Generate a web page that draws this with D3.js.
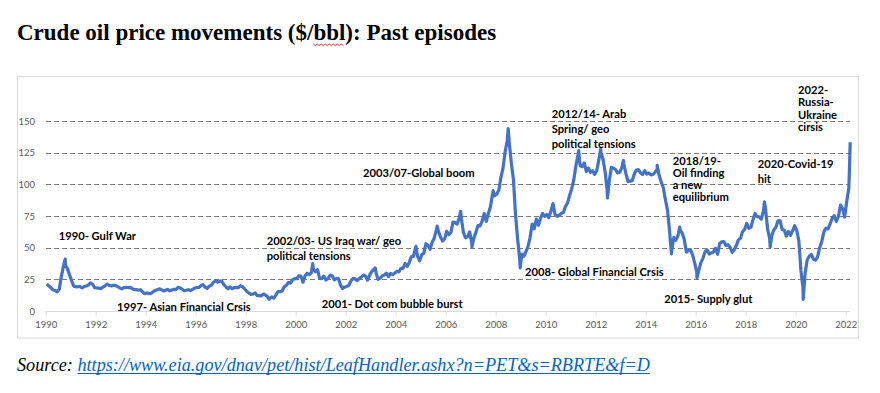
<!DOCTYPE html>
<html>
<head>
<meta charset="utf-8">
<script src="https://cdn.jsdelivr.net/npm/d3@7"></script>
<style>
	body{margin:0;background:#fff;}
</style>
</head>
<body>
<div id="container"></div>
<script>
// Brent monthly averages ($/bbl), Jan..Dec per year, one array per decade
const brent1990s=[
	21.25,19.81,18.39,16.61,16.35,15.10,17.17,27.17,35.25,36.02,33.07,28.27,
	23.57,19.54,19.08,19.18,19.19,18.17,19.40,19.77,20.50,22.21,21.11,18.41,
	18.16,18.05,17.63,18.92,19.89,21.16,20.20,19.73,20.22,20.26,19.25,18.31,
	17.41,18.44,18.70,18.53,18.61,17.76,16.78,16.95,16.37,16.84,15.12,13.64,
	14.30,13.79,13.71,15.16,16.24,16.76,17.48,16.82,15.88,16.24,17.06,15.94,
	16.55,17.08,16.83,18.58,18.25,17.18,15.95,16.37,16.83,16.08,17.08,18.10,
	18.57,18.54,19.92,20.83,18.71,17.92,19.60,20.25,22.61,24.00,22.79,23.54,
	23.54,20.85,19.13,17.56,19.02,17.58,18.46,18.60,18.46,19.87,19.18,17.40,
	15.50,14.20,13.17,13.40,14.36,12.10,12.10,11.90,13.41,12.65,11.11,9.82,
	11.09,10.26,12.51,15.29,15.23,15.87,19.08,20.24,22.54,21.94,24.59,25.60
];
const brent2000s=[
	25.51,27.78,27.49,22.76,27.74,29.80,28.68,30.20,33.14,30.96,32.55,25.66,
	25.62,27.50,24.50,25.66,28.31,27.85,24.61,25.68,25.62,20.54,18.80,18.71,
	19.42,20.28,23.70,25.73,25.35,24.08,25.74,26.65,28.40,27.54,24.34,28.33,
	31.18,32.77,30.61,25.00,25.86,27.65,28.35,29.89,27.11,29.61,28.75,29.81,
	31.28,30.86,33.63,33.59,37.57,35.18,38.22,42.74,43.20,49.78,43.11,39.60,
	44.51,45.48,53.10,51.88,48.65,54.35,57.52,63.98,62.91,58.54,55.24,56.86,
	62.99,60.21,62.06,70.26,69.78,68.56,73.67,73.23,61.96,57.81,58.76,62.47,
	53.68,57.56,62.05,67.49,67.21,71.05,76.93,70.76,77.17,82.34,92.41,90.93,
	92.18,95.39,105.45,112.58,125.40,133.88,133.37,116.67,104.11,76.61,57.31,41.12,
	44.86,43.24,46.84,50.85,57.94,68.59,64.91,72.50,67.69,73.19,77.04,74.67
];
const brent2010s=[
	76.17,73.75,78.83,84.82,75.95,74.76,75.58,77.04,77.84,82.67,85.28,91.45,
	96.52,103.72,114.64,123.26,114.99,113.83,116.97,110.22,112.83,109.55,110.77,107.87,
	110.69,119.33,125.45,119.75,110.34,95.16,102.62,113.36,112.86,111.71,109.06,109.49,
	112.96,116.05,108.47,102.25,102.56,102.92,107.93,111.28,111.60,109.08,107.79,110.76,
	108.12,108.90,107.48,107.76,109.54,111.80,106.77,101.61,97.09,87.43,79.44,62.34,
	47.76,58.10,55.89,59.52,64.08,61.48,56.56,46.52,47.62,48.43,44.27,38.01,
	30.70,32.18,38.21,41.58,46.74,48.25,44.95,45.84,46.57,49.52,44.73,53.31,
	54.58,54.87,51.59,52.31,50.33,46.37,48.48,51.70,56.15,57.51,62.71,64.37,
	69.08,65.32,66.02,72.11,76.98,74.41,74.25,72.53,78.89,81.03,64.75,57.36,
	59.41,63.96,66.14,71.23,71.32,64.22,63.92,59.04,62.83,59.71,63.21,67.31
];
const brent2020s=[
	63.65,55.66,32.01,18.38,29.38,40.27,43.24,44.74,40.91,40.19,42.69,49.99,
	54.77,62.28,65.41,64.81,68.53,73.16,75.17,70.75,74.49,83.54,81.05,74.17,
	86.51,97.13
];
// daily highs/lows that stand out in the daily series (decimal year, $/bbl)
const spikeYears=[1990.78,1998.94,2000.68,2001.87,2003.18,2004.81,2005.66,2006.60,2007.05,2007.90,
	2008.50,2008.98,2011.32,2012.20,2012.47,2013.11,2014.46,2015.03,2015.36,2016.05,
	2018.75,2018.98,2020.30,2022.15,2022.18];
const spikeValues=[41.0,9.1,37.4,17.7,34.0,51.0,67.0,78.7,50.5,95.0,
	143.9,34.0,126.6,128.1,89.2,118.9,115.0,45.1,66.3,26.0,
	86.1,50.5,9.1,112.0,133.2];

const yTicks=[0,25,50,75,100,125,150];
const xTicks=[1990,1992,1994,1996,1998,2000,2002,2004,2006,2008,2010,2012,2014,2016,2018,2020,2022];

const episodes=[
	{lines:["1990- Gulf War"], year:1990.52, value:56.0, lh:15},
	{lines:["1997- Asian Financial Crsis"], year:1992.85, value:0.2, lh:15},
	{lines:["2002/03- US Iraq war/ geo","political tensions"], year:1998.84, value:52.3, lh:15.3},
	{lines:["2001- Dot com bubble burst"], year:2001.04, value:2.4, lh:15},
	{lines:["2003/07-Global boom"], year:2002.69, value:106.0, lh:15},
	{lines:["2008- Global Financial Crsis"], year:2009.17, value:27.9, lh:15},
	{lines:["2012/14- Arab","Spring/ geo","political tensions"], year:2010.24, value:152.4, lh:15},
	{lines:["2018/19-","Oil finding","a new","equilibrium"], year:2015.08, value:115.3, lh:12},
	{lines:["2020-Covid-19","hit"], year:2018.48, value:113.1, lh:15},
	{lines:["2015- Supply glut"], year:2014.74, value:6.3, lh:15},
	{lines:["2022-","Russia-","Ukraine","cirsis"], year:2020.09, value:171.3, lh:12.3}
];

const titleText="Crude oil price movements ($/bbl): Past episodes";
const sourceLabel="Source: ";
const sourceUrl="https://www.eia.gov/dnav/pet/hist/LeafHandler.ashx?n=PET&s=RBRTE&f=D";

// build the series
const series=[];
[brent1990s,brent2000s,brent2010s,brent2020s].forEach((arr,k) => {
	arr.forEach((v,i) => series.push({t:1990+k*10+(i+0.5)/12, v:v}));
});
spikeYears.forEach((t,i) => series.push({t:t, v:spikeValues[i]}));
series.sort((a,b) => a.t-b.t);

const w=880, h=393;
const svg=d3.select("#container").append("svg").attr("width", w).attr("height", h)
	.style("font-family","Lato, 'Open Sans', sans-serif");
svg.append("rect").attr("width", w).attr("height", h).attr("fill", "#fff");

// title
const title=svg.append("text")
	.attr("x", 17).attr("y", 40)
	.attr("font-family", "'Liberation Serif', 'Times New Roman', serif")
	.attr("font-weight", "bold").attr("font-size", 23)
	.attr("fill", "#000")
	.text(titleText);
// spell-check squiggle under "bbl"
const bi=titleText.indexOf("bbl");
const bx=17+title.node().getSubStringLength(0, bi);
const bw=title.node().getSubStringLength(bi, 3);
const sq=d3.range(0, Math.floor(bw/2)+1).map(k => [bx+k*2, 44+(k%2 ? 1.6 : 0)]);
svg.append("path").attr("d", d3.line()(sq)).attr("fill","none").attr("stroke","#e02020").attr("stroke-width",0.9);

// chart frame
svg.append("rect").attr("x", 17.5).attr("y", 76.5).attr("width", 841).attr("height", 261.5)
	.attr("fill", "none").attr("stroke", "#d9d9d9");

const xScale=d3.scaleLinear().domain([1990, 2022.18]).range([45.7, 850.2]);
const yScale=d3.scaleLinear().domain([0, 150]).range([311, 121]);

// gridlines
svg.append("g").selectAll("line")
	.data(yTicks.filter(d => d>0))
	.enter().append("line")
	.attr("x1", 46).attr("x2", 850)
	.attr("y1", d => Math.round(yScale(d))+0.5).attr("y2", d => Math.round(yScale(d))+0.5)
	.attr("stroke", "#7a7a7a").attr("stroke-width", 1).attr("stroke-dasharray", "5,3");

// axes
const xAxis=d3.axisBottom(xScale).tickValues(xTicks).tickFormat(d3.format("d")).tickSize(4).tickPadding(6);
const xg=svg.append("g").attr("transform", "translate(0,311.5)").call(xAxis);
xg.select(".domain").attr("stroke", "#d9d9d9").attr("d", "M45.7,0H850");
xg.selectAll(".tick line").attr("stroke", "#d9d9d9");
xg.selectAll(".tick text").attr("fill", "#595959").attr("font-size", 9.5).attr("font-family", "Lato, sans-serif");

const yAxis=d3.axisLeft(yScale).tickValues(yTicks).tickSize(0).tickPadding(10);
const yg=svg.append("g").attr("transform", "translate(45,0)").call(yAxis);
yg.select(".domain").remove();
yg.selectAll(".tick text").attr("fill", "#595959").attr("font-size", 9.5).attr("font-family", "Lato, sans-serif");

// price line
const line=d3.line().x(d => xScale(d.t)).y(d => yScale(d.v));
svg.append("path").datum(series)
	.attr("d", line)
	.attr("fill", "none")
	.attr("stroke", "#4472c4")
	.attr("stroke-width", 3.2)
	.attr("stroke-linejoin", "round");

// episode notes
const notes=svg.append("g").attr("font-weight", "bold").attr("font-size", 11.2).attr("fill", "#000");
episodes.forEach(e => {
	const t=notes.append("text").attr("x", xScale(e.year)).attr("y", yScale(e.value));
	e.lines.forEach((s,i) => {
		t.append("tspan").attr("x", xScale(e.year)).attr("dy", i===0 ? 0 : e.lh).text(s);
	});
});

// source line
const src=svg.append("text")
	.attr("x", 17).attr("y", 371)
	.attr("font-family", "'Liberation Serif', 'Times New Roman', serif")
	.attr("font-style", "italic").attr("font-size", 18.2);
src.append("tspan").attr("fill", "#000").text(sourceLabel);
src.append("tspan").attr("fill", "#0563c1").text(sourceUrl);
const ux=17+src.node().getSubStringLength(0, sourceLabel.length);
const uw=src.node().getSubStringLength(sourceLabel.length, sourceUrl.length);
svg.append("line").attr("x1", ux).attr("x2", ux+uw).attr("y1", 373.5).attr("y2", 373.5)
	.attr("stroke", "#0563c1").attr("stroke-width", 1);
</script>
</body>
</html>
